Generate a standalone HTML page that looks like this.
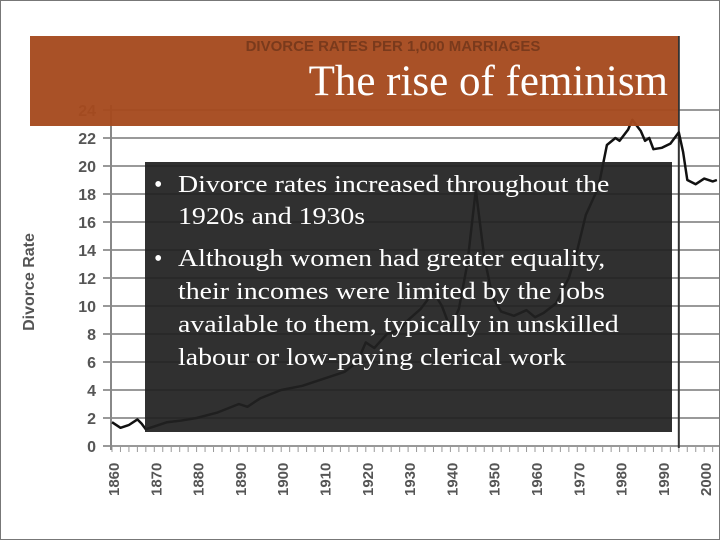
<!DOCTYPE html>
<html><head><meta charset="utf-8"><style>
html,body{margin:0;padding:0;background:#fff;}
#slide{position:relative;width:720px;height:540px;overflow:hidden;background:#fff;font-family:"Liberation Serif",serif;}
#border{position:absolute;left:0;top:0;width:718px;height:538px;border:1px solid #777;}
#banner{position:absolute;left:30px;top:36px;width:648px;height:90px;background:rgba(165,74,30,0.96);}
#title{position:absolute;right:52px;top:56px;color:#fff;font-size:43px;line-height:52px;white-space:nowrap;}
#box{position:absolute;left:145px;top:162px;width:527px;height:270px;background:rgba(32,32,32,0.93);color:#fff;font-size:24px;}
.ln{position:absolute;left:33px;white-space:nowrap;line-height:30px;transform:scaleX(1.16);transform-origin:0 50%;}
.bu{position:absolute;left:9px;line-height:30px;}
</style></head><body>
<div id="slide">
<svg id="chart" width="720" height="540" style="position:absolute;left:0;top:0"></svg>
<div id="banner"></div>
<svg width="720" height="60" style="position:absolute;left:0;top:0">
<text x="393" y="51" text-anchor="middle" font-family="Liberation Sans, sans-serif" font-weight="bold" font-size="15" fill="#7a3a1c">DIVORCE RATES PER 1,000 MARRIAGES</text>
</svg>
<div id="title">The rise of feminism</div>
<div id="box">
<div class="bu" style="top:8px">•</div>
<div>
<div class="ln" style="top:8px">Divorce rates increased throughout the</div>
<div class="ln" style="top:40px">1920s and 1930s</div>
</div>
<div class="bu" style="top:82px">•</div>
<div>
<div class="ln" style="top:82px">Although women had greater equality,</div>
<div class="ln" style="top:115px">their incomes were limited by the jobs</div>
<div class="ln" style="top:148px">available to them, typically in unskilled</div>
<div class="ln" style="top:181px">labour or low-paying clerical work</div>
</div>
</div>
<div id="border"></div>
</div>
<script>
const yearTicks=[1860,1870,1880,1890,1900,1910,1920,1930,1940,1950,1960,1970,1980,1990,2000];
const rateTicks=[0,2,4,6,8,10,12,14,16,18,20,22,24];
const years=[1860,1862,1864,1866,1867,1868,1870,1873,1876,1880,1885,1890,1892,1895,1900,1905,1910,1915,1918,1920,1922,1925,1928,1930,1933,1936,1938,1940,1942,1944,1946,1948,1950,1952,1955,1958,1960,1962,1965,1968,1970,1972,1975,1977,1979,1980,1982,1983,1985,1986,1987,1988,1990,1992,1994,1995,1996,1998,2000,2002,2003];
const rates=[1.7,1.3,1.5,1.9,1.6,1.2,1.4,1.7,1.8,2.0,2.4,3.0,2.8,3.4,4.0,4.3,4.8,5.3,6.0,7.4,7.0,8.0,8.3,9.0,9.8,11.0,10.0,8.4,9.8,13.0,18.3,13.5,10.6,9.6,9.3,9.7,9.2,9.5,10.2,12.0,14.0,16.5,18.5,21.5,22.0,21.8,22.6,23.3,22.5,21.8,22.0,21.2,21.3,21.6,22.4,21.0,19.0,18.7,19.1,18.9,19.0];
const svg=document.getElementById('chart');
const NS='http://www.w3.org/2000/svg';
const X=y=>112+(y-1860)*4.23;
const Y=v=>446-v*14;
function mk(t,a){const e=document.createElementNS(NS,t);for(const k in a)e.setAttribute(k,a[k]);svg.appendChild(e);return e;}
rateTicks.forEach(v=>{
 const g=mk('line',{x1:103,x2:720,y1:Y(v),y2:Y(v),stroke:'#999','stroke-width':2});
 
 
 const t=mk('text',{x:96,y:Y(v)+6,'text-anchor':'end','font-family':'Liberation Sans, sans-serif','font-weight':'bold','font-size':16,fill:'#555'});
 t.textContent=v;
 
 
});
for(let y=1860;y<=2004;y+=2){mk('line',{x1:X(y),x2:X(y),y1:446,y2:452,stroke:'#999','stroke-width':1});}
yearTicks.forEach(y=>{
 const t=mk('text',{x:0,y:0,transform:`translate(${X(y)+7},${496}) rotate(-90)`,'font-family':'Liberation Sans, sans-serif','font-weight':'bold','font-size':15,fill:'#555'});
 t.textContent=y;
 
 
});
const ax=mk('line',{x1:111,x2:111,y1:105,y2:450,stroke:'#888','stroke-width':2});


const vl=mk('line',{x1:X(1994),x2:X(1994),y1:36,y2:448,stroke:'#333','stroke-width':2});


const yt=mk('text',{x:0,y:0,transform:'translate(34,282) rotate(-90)','text-anchor':'middle','font-family':'Liberation Sans, sans-serif','font-weight':'bold','font-size':16,fill:'#555'});
yt.textContent='Divorce Rate';


const p=mk('path',{d:years.map((y,i)=>(i?'L':'M')+X(y).toFixed(1)+' '+Y(rates[i]).toFixed(1)).join(' '),fill:'none',stroke:'#111','stroke-width':2.5,'stroke-linejoin':'round'});


</script>
</body></html>
